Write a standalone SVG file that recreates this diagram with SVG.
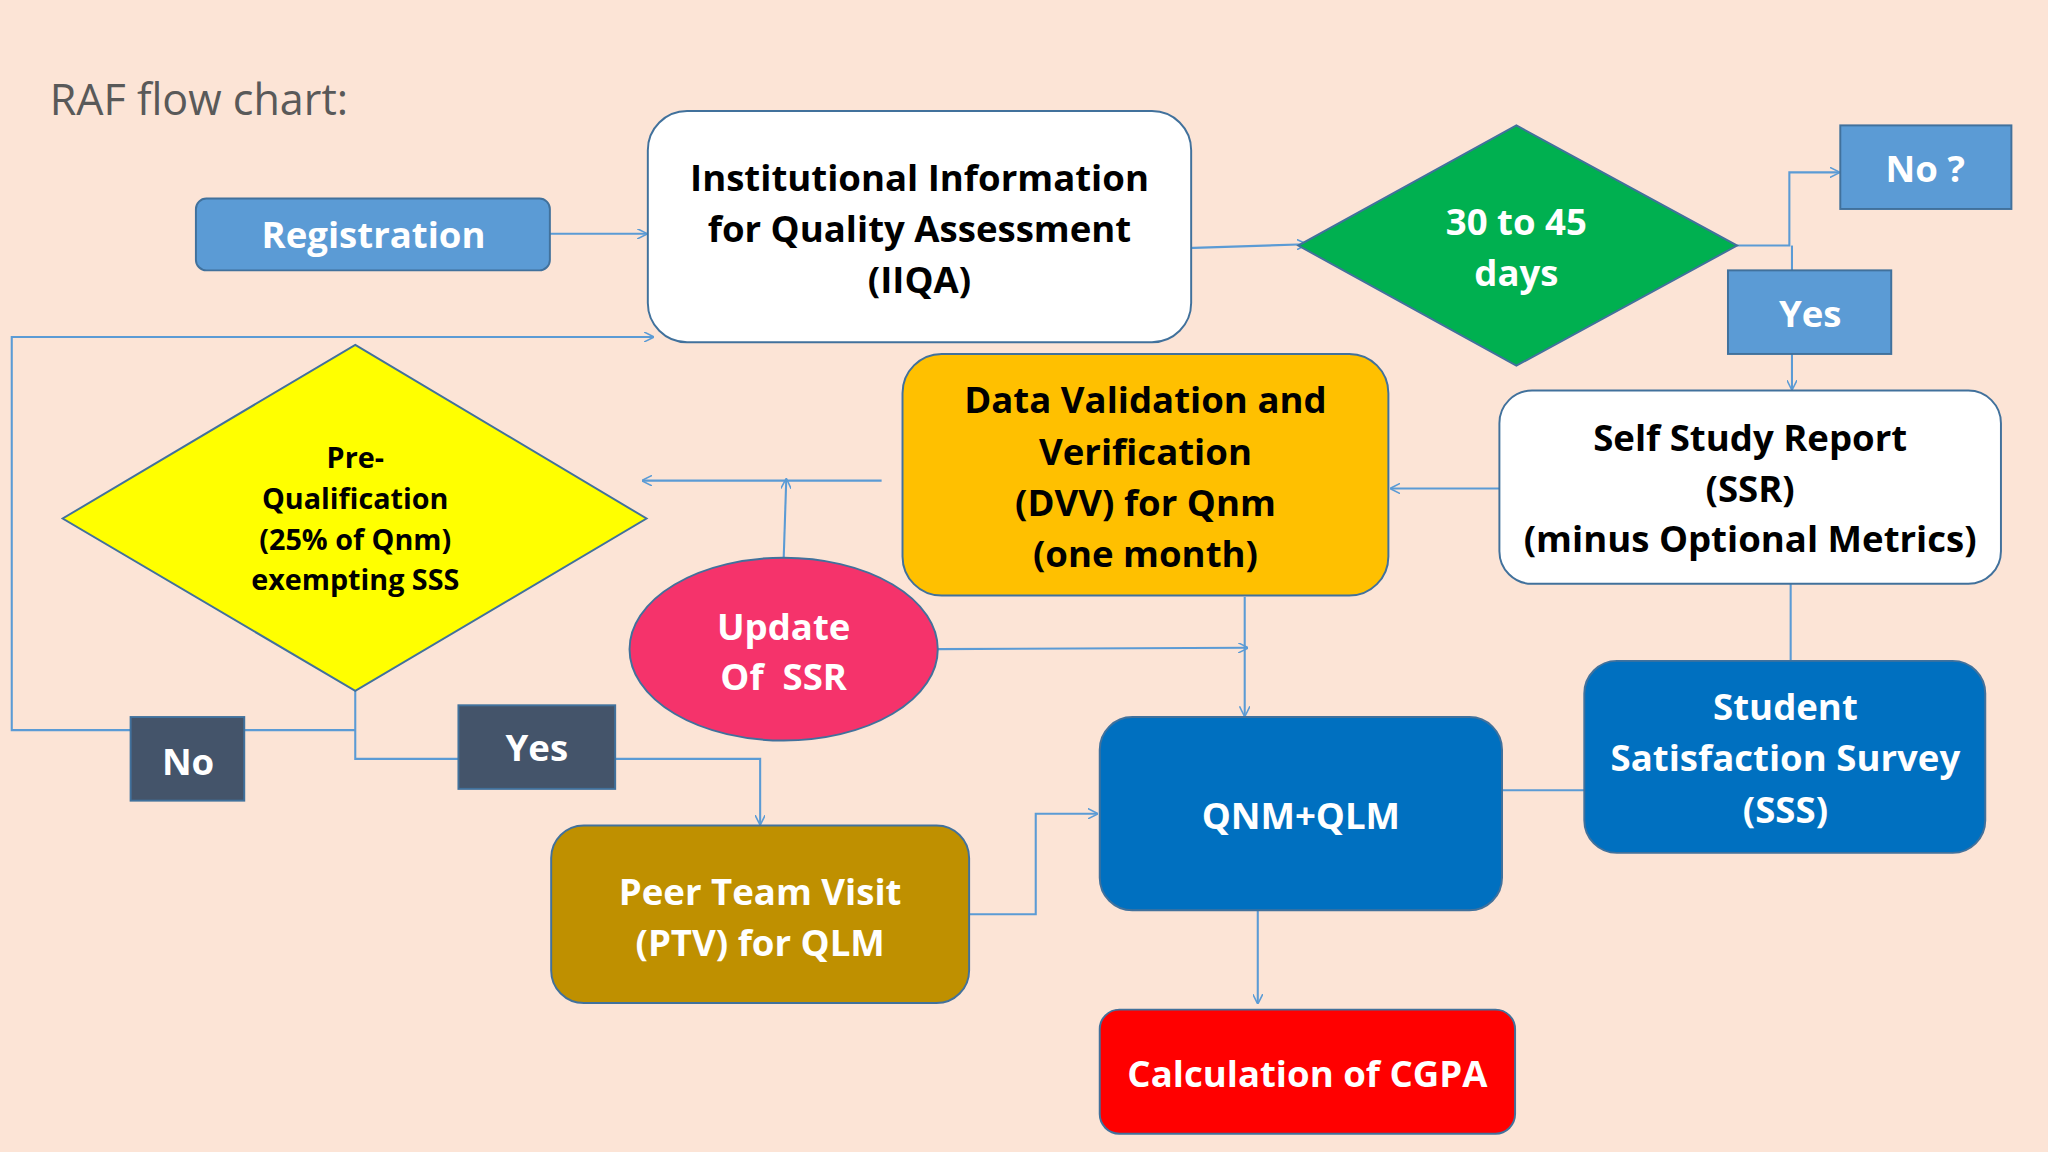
<svg xmlns="http://www.w3.org/2000/svg" width="2048" height="1152" viewBox="0 0 2048 1152">
<defs>
<marker id="a" viewBox="0 0 10 10" refX="9" refY="5" markerWidth="8" markerHeight="8" orient="auto" markerUnits="userSpaceOnUse"><path d="M0,0 L10,5 L0,10" fill="none" stroke="#5b9bd5" stroke-width="1.5"/></marker>
</defs>
<style>
text{font-family:"Open Sans","Noto Sans","Liberation Sans",sans-serif;font-weight:bold;text-anchor:middle}
.w{fill:#fff;font-size:28px}
.k{fill:#000;font-size:28px}
.s{fill:#000;font-size:22px}
.c{fill:none;stroke:#5b9bd5;stroke-width:1.6}
.ar{marker-end:url(#a)}
.b{stroke:#41719c;stroke-width:1.5}
</style>
<rect width="2048" height="1152" fill="#fce4d6"/>
<g transform="scale(1.3061)">
<text x="38" y="88" style="font-weight:normal;text-anchor:start;font-size:33px;fill:#595959">RAF flow chart:</text>
<g id="connectors">
<path class="c ar" d="M421,179 H495"/>
<path class="c ar" d="M908,190 L1000,187"/>
<path class="c ar" d="M1330,188 H1370 V132 H1408"/>
<path class="c" d="M1372,188 V207"/>
<path class="c ar" d="M1372,271 V298"/>
<path class="c ar" d="M1148,374 H1065"/>
<path class="c ar" d="M675,368 H492"/>
<path class="c ar" d="M600,428 L602,367"/>
<path class="c ar" d="M718,497 L955,496"/>
<path class="c ar" d="M953,457 V548"/>
<path class="c" d="M1371,447 V506"/>
<path class="c ar" d="M1213,605 H1130"/>
<path class="c" d="M272,529 V581 H351"/>
<path class="c ar" d="M471,581 H582 V631"/>
<path class="c" d="M272,559 H187"/>
<path class="c ar" d="M100,559 H9 V258 H500"/>
<path class="c ar" d="M742,700 H793 V623 H840"/>
<path class="c ar" d="M963,677 V768"/>
</g>
<g id="registration"><rect x="150" y="152" width="271" height="55" rx="8" fill="#5b9bd5" class="b"/><text class="w" x="286" y="190">Registration</text></g>
<g id="iiqa"><rect x="496" y="85" width="416" height="177" rx="30" fill="#fff" class="b"/><text class="k" x="704" y="146">Institutional Information</text><text class="k" x="704" y="185">for Quality Assessment</text><text class="k" x="704" y="224">(IIQA)</text></g>
<g id="days"><polygon points="1161,96 1330,188 1161,280 994,188" fill="#00b050" class="b"/><text class="w" x="1161" y="180">30 to 45</text><text class="w" x="1161" y="219">days</text></g>
<g id="no2"><rect x="1409" y="96" width="131" height="64" fill="#5b9bd5" class="b"/><text class="w" x="1474" y="139">No ?</text></g>
<g id="yes1"><rect x="1323" y="207" width="125" height="64" fill="#5b9bd5" class="b"/><text class="w" x="1386" y="250">Yes</text></g>
<g id="ssr"><rect x="1148" y="299" width="384" height="148" rx="25" fill="#fff" class="b"/><text class="k" x="1340" y="345">Self Study Report</text><text class="k" x="1340" y="384">(SSR)</text><text class="k" x="1340" y="423">(minus Optional Metrics)</text></g>
<g id="dvv"><rect x="691" y="271" width="372" height="185" rx="30" fill="#ffc000" class="b"/><text class="k" x="877" y="316">Data Validation and</text><text class="k" x="877" y="356">Verification</text><text class="k" x="877" y="395">(DVV) for Qnm</text><text class="k" x="877" y="434">(one month)</text></g>
<g id="preq"><polygon points="272,264 495,397 272,529 48,397" fill="#ffff00" class="b"/><text class="s" x="272" y="358">Pre-</text><text class="s" x="272" y="390">Qualification</text><text class="s" x="272" y="421">(25% of Qnm)</text><text class="s" x="272" y="452">exempting SSS</text></g>
<g id="update"><ellipse cx="600" cy="497" rx="118" ry="70" fill="#f5336b" class="b"/><text class="w" x="600" y="490">Update</text><text class="w" x="600" y="528" xml:space="preserve">Of  SSR</text></g>
<g id="no1"><rect x="100" y="549" width="87" height="64" fill="#44546a" class="b"/><text class="w" x="144" y="593">No</text></g>
<g id="yes2"><rect x="351" y="540" width="120" height="64" fill="#44546a" class="b"/><text class="w" x="411" y="583">Yes</text></g>
<g id="ptv"><rect x="422" y="632" width="320" height="136" rx="25" fill="#bf9000" class="b"/><text class="w" x="582" y="693">Peer Team Visit</text><text class="w" x="582" y="732">(PTV) for QLM</text></g>
<g id="qnm"><rect x="842" y="549" width="308" height="148" rx="25" fill="#0070c0" class="b"/><text class="w" x="996" y="635">QNM+QLM</text></g>
<g id="sss"><rect x="1213" y="506" width="307" height="147" rx="25" fill="#0070c0" class="b"/><text class="w" x="1367" y="551">Student</text><text class="w" x="1367" y="590">Satisfaction Survey</text><text class="w" x="1367" y="630">(SSS)</text></g>
<g id="cgpa"><rect x="842" y="773" width="318" height="95" rx="15" fill="#ff0000" class="b"/><text class="w" x="1001" y="832">Calculation of CGPA</text></g>
</g>
</svg>
